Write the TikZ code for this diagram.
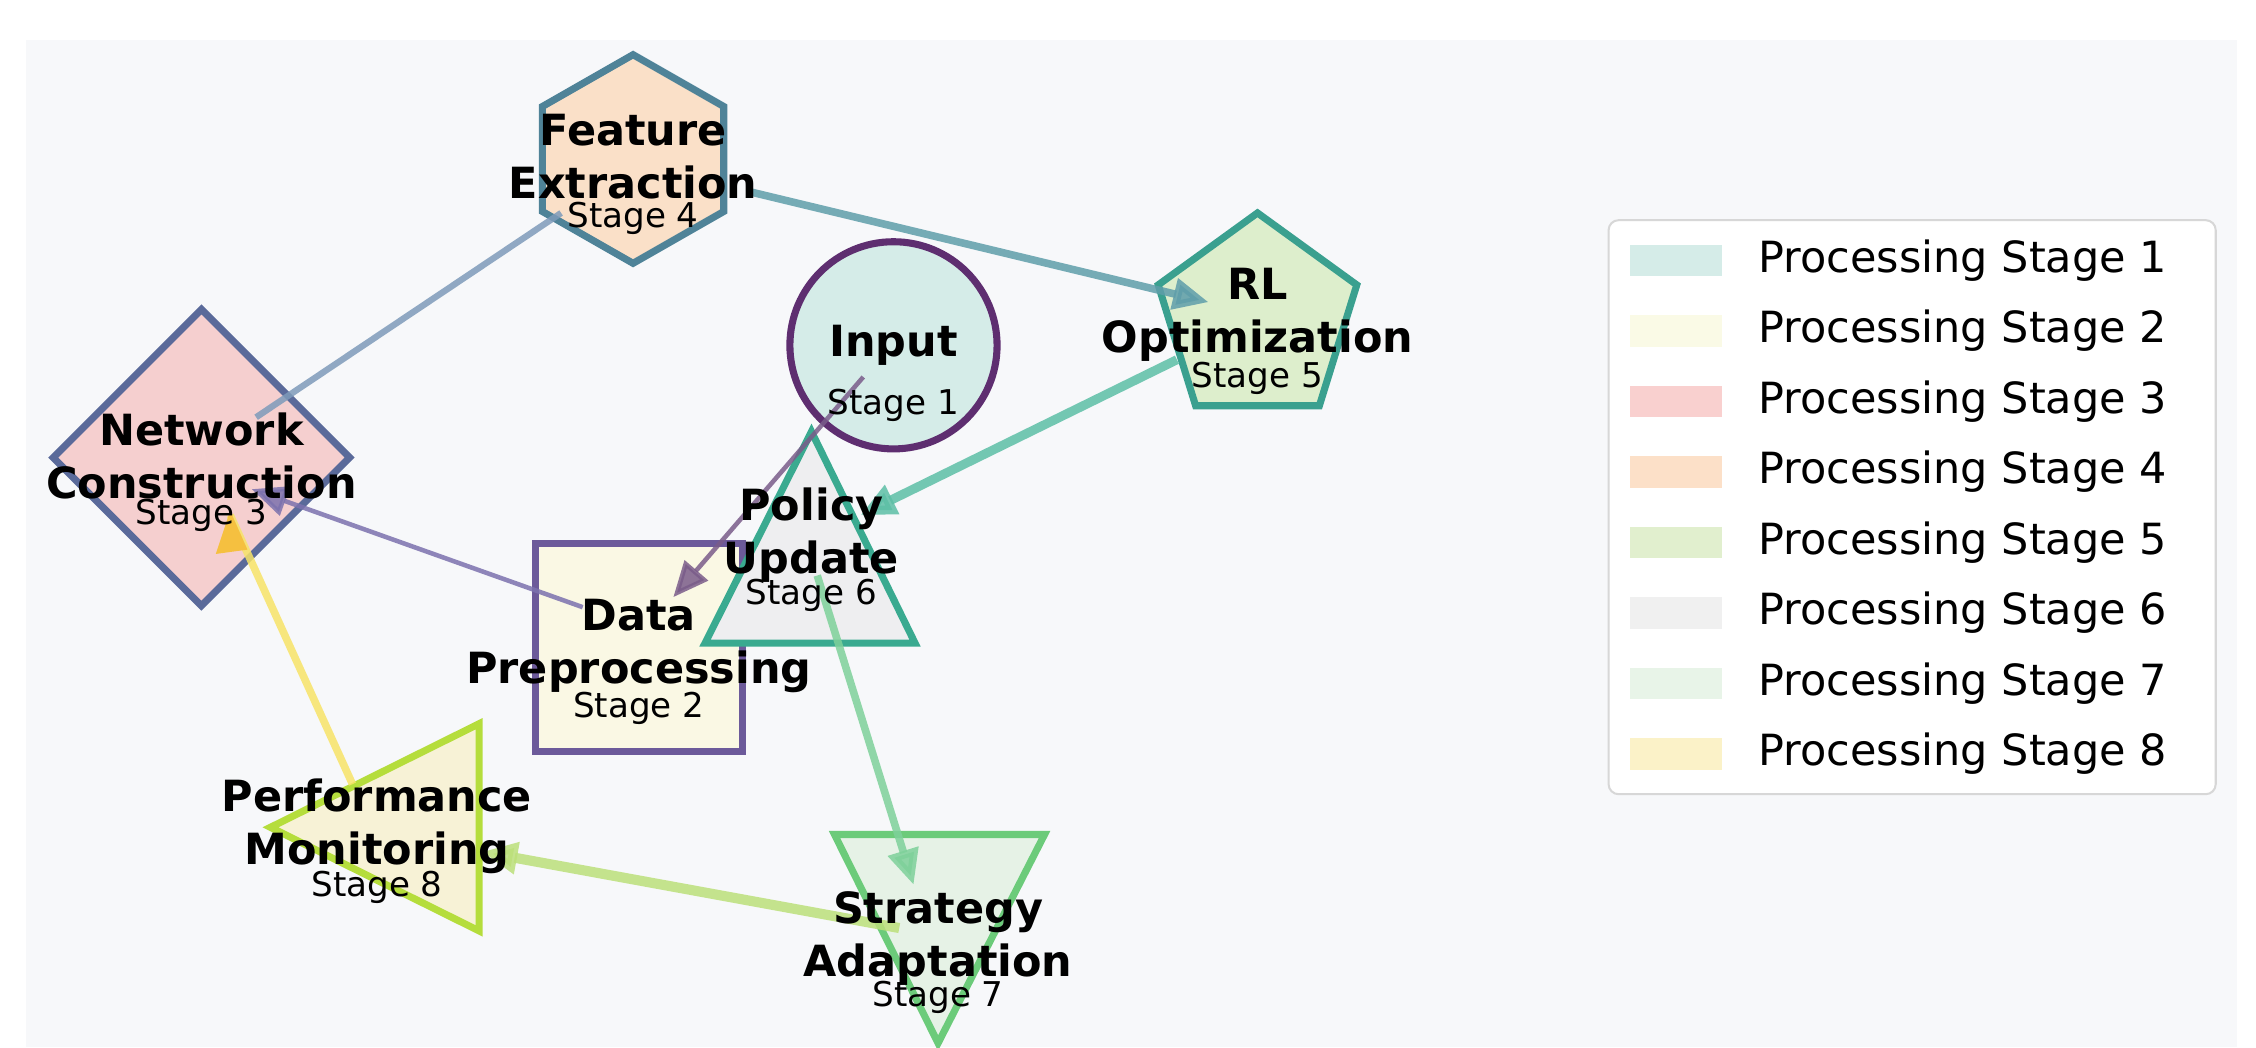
\documentclass[tikz,border=0pt]{standalone}
\usepackage{fontspec}
\setmainfont{DejaVu Sans}
\usetikzlibrary{arrows.meta}
\begin{document}
\begin{tikzpicture}[x=0.02cm,y=-0.02cm,
 shp/.style={line width=2.8pt,line join=miter},
 lbl/.style={font=\fontsize{17}{21}\selectfont\bfseries,align=center,inner sep=0},
 stg/.style={font=\fontsize{13.5}{15}\selectfont,inner sep=0},
 edge/.style={line width=#1,opacity=0.85,-{Triangle[length=14pt,width=12pt]}},
 plain/.style={line width=#1,opacity=0.85},
 leg/.style={font=\fontsize{17}{20}\selectfont,anchor=west,inner sep=0}]
\useasboundingbox (0,0) rectangle (1568,728);
\fill[fill={rgb,255:red,247;green,248;blue,250}] (18,28) rectangle (1555,728);
% shapes
\draw[shp,draw={rgb,255:red,94;green,46;blue,112},fill={rgb,255:red,213;green,236;blue,232}] (621,240) circle (72);
\draw[shp,draw={rgb,255:red,108;green,90;blue,154},fill={rgb,255:red,250;green,248;blue,228}] (372,378) rectangle (516,522);
\draw[shp,draw={rgb,255:red,90;green,106;blue,154},fill={rgb,255:red,245;green,207;blue,207}] (140,215)--(243,318)--(140,421)--(37,318)--cycle;
\draw[shp,draw={rgb,255:red,79;green,131;blue,152},fill={rgb,255:red,250;green,224;blue,200}] (440,38)--(503,74)--(503,147)--(440,183)--(377,147)--(377,74)--cycle;
\draw[shp,draw={rgb,255:red,58;green,160;blue,143},fill={rgb,255:red,221;green,238;blue,204}] (874,148)--(943,198)--(917,282)--(831,282)--(805,198)--cycle;
\draw[shp,draw={rgb,255:red,58;green,170;blue,144},fill={rgb,255:red,238;green,238;blue,240}] (564,300)--(636,447)--(490,447)--cycle;
\draw[shp,draw={rgb,255:red,108;green,203;blue,122},fill={rgb,255:red,230;green,242;blue,230}] (580,580)--(726,580)--(652,725)--cycle;
\draw[shp,draw={rgb,255:red,181;green,221;blue,60},fill={rgb,255:red,247;green,242;blue,214}] (333,503)--(333,647)--(188,575)--cycle;
% edge endpoints
\coordinate (fe1) at (520,133); \coordinate (rl1) at (840,210);
\coordinate (nc1) at (178,290); \coordinate (fe2) at (390,148);
\coordinate (in1) at (600,262); \coordinate (dp1) at (468,415);
\coordinate (dp2) at (405,422); \coordinate (nc2) at (175,340);
\coordinate (rl2) at (818,250); \coordinate (pu1) at (598,358);
\coordinate (pu2) at (568,400); \coordinate (sa1) at (635,615);
\coordinate (sa2) at (625,645); \coordinate (pm1) at (335,592);
\coordinate (pm2) at (245,545); \coordinate (nc3) at (160,358);
\draw[edge=3pt,color={rgb,255:red,95;green,158;blue,170}] (fe1)--(rl1);
\draw[plain=2.5pt,color={rgb,255:red,126;green,155;blue,186}] (nc1)--(fe2);
\draw[edge=1.8pt,color={rgb,255:red,122;green,92;blue,138}] (in1)--(dp1);
\draw[edge=1.8pt,color={rgb,255:red,124;green,114;blue,174}] (dp2)--(nc2);
\draw[edge=3.6pt,color={rgb,255:red,93;green,191;blue,166}] (rl2)--(pu1);
\draw[edge=3pt,color={rgb,255:red,126;green,209;blue,154}] (pu2)--(sa1);
\draw[edge=4pt,color={rgb,255:red,188;green,224;blue,122}] (sa2)--(pm1);
\draw[plain=3pt,color={rgb,255:red,247;green,228;blue,104}] (pm2)--(nc3);
\fill[color={rgb,255:red,245;green,192;blue,64}] (160,355)--(150,385)--(172,382)--cycle;
% labels
\node[lbl] (inL) at (621,240) {Input}; \node[stg] (inS) at (621,282) {Stage 1};
\node[lbl] (dpL) at (444,449) {Data\\Preprocessing}; \node[stg] (dpS) at (444,492) {Stage 2};
\node[lbl] (ncL) at (140,317) {Network\\Construction}; \node[stg] (ncS) at (140,358) {Stage 3};
\node[lbl] (feL) at (440,109) {Feature\\Extraction}; \node[stg] (feS) at (440,152) {Stage 4};
\node[lbl] (rlL) at (874,219) {RL\\Optimization}; \node[stg] (rlS) at (874,263) {Stage 5};
\node[lbl] (puL) at (564,372) {Policy\\Update}; \node[stg] (puS) at (564,414) {Stage 6};
\node[lbl] (saL) at (652,652) {Strategy\\Adaptation}; \node[stg] (saS) at (652,693) {Stage 7};
\node[lbl] (pmL) at (262,574) {Performance\\Monitoring}; \node[stg] (pmS) at (262,617) {Stage 8};
% legend
\draw[rounded corners=4pt,fill=white,draw={rgb,255:red,215;green,215;blue,215},line width=0.8pt] (1118,153) rectangle (1540,552);
\foreach \i/\r/\g/\b in {1/213/236/232,2/250/250/230,3/249/208/207,4/252/224/200,5/225/239/206,6/240/240/240,7/232/244/232,8/251/242/200}{
 \pgfmathsetmacro{\yy}{181+49*(\i-1)}
 \fill[fill={rgb,255:red,\r;green,\g;blue,\b}] (1133,\yy-11) rectangle (1197,\yy+11);
 \node[leg] (lg\i) at (1222,\yy) {Processing Stage \i};
}
\end{tikzpicture}
\end{document}
